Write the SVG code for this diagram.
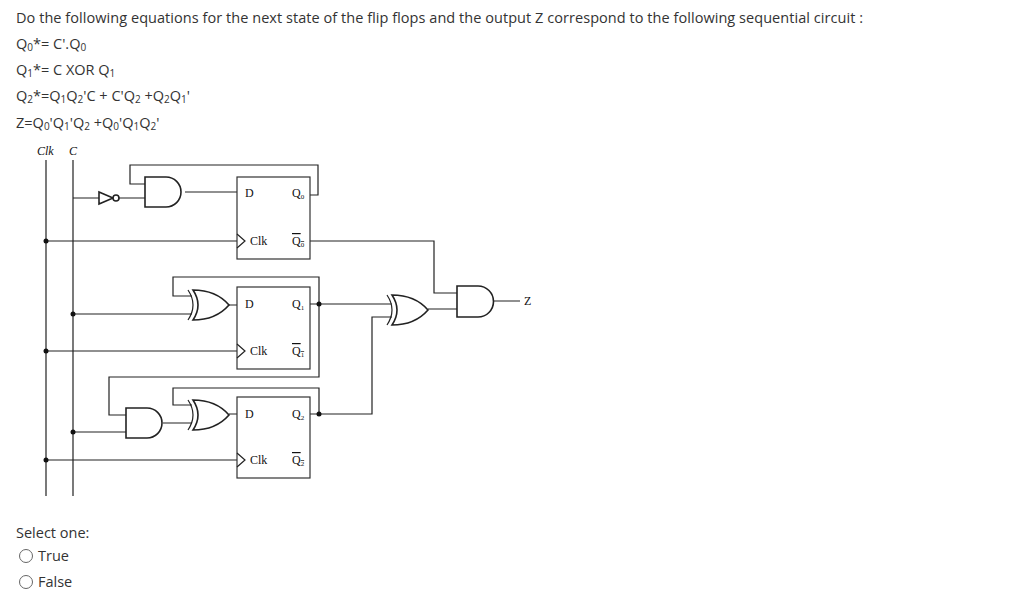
<svg xmlns="http://www.w3.org/2000/svg" width="1031" height="600" viewBox="0 0 1031 600">
<style>
.t{font-family:"Open Sans",sans-serif;font-size:14.5px;fill:#333}
.s{font-size:10px}
.c{font-family:"Liberation Serif",serif;font-size:12px;fill:#111}
.w{fill:none;stroke:#222;stroke-width:1.2}
.g{fill:#fff;stroke:#222;stroke-width:1.6}
.b{fill:#fff;stroke:#333;stroke-width:1.2}
</style>
<rect width="1031" height="600" fill="#fff"/>
<text class="t" x="16" y="23" textLength="847">Do the following equations for the next state of  the flip flops and the output Z correspond to the  following sequential circuit :</text>
<text class="t" x="16" y="49">Q<tspan class="s" dy="2">0</tspan><tspan dy="-2">*= C'.Q</tspan><tspan class="s" dy="2">0</tspan></text>
<text class="t" x="16" y="75">Q<tspan class="s" dy="2">1</tspan><tspan dy="-2">*= C XOR Q</tspan><tspan class="s" dy="2">1</tspan></text>
<text class="t" x="16" y="101">Q<tspan class="s" dy="2">2</tspan><tspan dy="-2">*=Q</tspan><tspan class="s" dy="2">1</tspan><tspan dy="-2">Q</tspan><tspan class="s" dy="2">2</tspan><tspan dy="-2">'C + C'Q</tspan><tspan class="s" dy="2">2</tspan><tspan dy="-2"> +Q</tspan><tspan class="s" dy="2">2</tspan><tspan dy="-2">Q</tspan><tspan class="s" dy="2">1</tspan><tspan dy="-2">'</tspan></text>
<text class="t" x="16" y="128">Z=Q<tspan class="s" dy="2">0</tspan><tspan dy="-2">'Q</tspan><tspan class="s" dy="2">1</tspan><tspan dy="-2">'Q</tspan><tspan class="s" dy="2">2</tspan><tspan dy="-2"> +Q</tspan><tspan class="s" dy="2">0</tspan><tspan dy="-2">'Q</tspan><tspan class="s" dy="2">1</tspan><tspan dy="-2">Q</tspan><tspan class="s" dy="2">2</tspan><tspan dy="-2">'</tspan></text>
<text class="c" x="37" y="155" font-style="italic">Clk</text>
<text class="c" x="69" y="155" font-style="italic">C</text>

<g id="connectors">
<path class="w" d="M46 160V496M73 160V496"/>
<path class="w" d="M73 198H99M119 198H145M185 192H237M145 184H130V165H318V195H310"/>
<path class="w" d="M46 241H237M46 351H237M46 460H237"/>
<path class="w" d="M310 241H434V293H457"/>
<path class="w" d="M229 305H237M73 314H192M319 304V277H173V296H192M310 304H392"/>
<path class="w" d="M319 304V377H109V415H126M73 432H126M163 423H192M229 414H237"/>
<path class="w" d="M310 414H372V317H392M319 414V388H173V405H192"/>
<path class="w" d="M428 309H457M493 301H520"/>
<g fill="#111"><circle cx="46" cy="241" r="2.5"/><circle cx="46" cy="351" r="2.5"/><circle cx="46" cy="460" r="2.5"/><circle cx="73" cy="314" r="2.5"/><circle cx="73" cy="432" r="2.5"/><circle cx="319" cy="304" r="2.5"/><circle cx="319" cy="414" r="2.5"/></g>
</g>

<g id="inv"><path class="g" d="M99 192V204L113 198Z"/><circle class="g" cx="116" cy="198" r="3"/></g>
<g id="and0"><path class="g" d="M145 177H166A15 15 0 0 1 166 207H145Z"/></g>
<g id="xor1"><path class="g" d="M193 290Q203 305 193 320Q216 320 229 305Q216 290 193 290Z"/><path class="w" stroke-width="1.6" d="M188 290Q198 305 188 320"/></g>
<g id="and2"><path class="g" d="M126 408H147A15 15 0 0 1 147 438H126Z"/></g>
<g id="xor2"><path class="g" d="M193 400Q203 415 193 430Q216 430 229 415Q216 400 193 400Z"/><path class="w" stroke-width="1.6" d="M188 400Q198 415 188 430"/></g>
<g id="xor3"><path class="g" d="M392 295Q402 310 392 325Q415 325 428 310Q415 295 392 295Z"/><path class="w" stroke-width="1.6" d="M387 295Q397 310 387 325"/></g>
<g id="and3"><path class="g" d="M457 286H478A15.5 15.5 0 0 1 478 317H457Z"/></g>
<text class="c" x="524" y="305">Z</text>

<g id="ff0"><rect class="b" x="237" y="177" width="73" height="82"/><path class="w" d="M237 234L245 241L237 248"/>
<text class="c" x="245" y="197">D</text><text class="c" x="292" y="197">Q<tspan font-size="7" dy="2">0</tspan></text>
<text class="c" x="250" y="245">Clk</text><text class="c" x="292" y="245" text-decoration="overline">Q<tspan font-size="7" dy="2">0</tspan></text></g>
<g id="ff1"><rect class="b" x="237" y="287" width="73" height="82"/><path class="w" d="M237 344L245 351L237 358"/>
<text class="c" x="245" y="308">D</text><text class="c" x="292" y="308">Q<tspan font-size="7" dy="2">1</tspan></text>
<text class="c" x="250" y="355">Clk</text><text class="c" x="292" y="355" text-decoration="overline">Q<tspan font-size="7" dy="2">1</tspan></text></g>
<g id="ff2"><rect class="b" x="237" y="397" width="73" height="81"/><path class="w" d="M237 453L245 460L237 467"/>
<text class="c" x="245" y="418">D</text><text class="c" x="292" y="418">Q<tspan font-size="7" dy="2">2</tspan></text>
<text class="c" x="250" y="464">Clk</text><text class="c" x="292" y="464" text-decoration="overline">Q<tspan font-size="7" dy="2">2</tspan></text></g>

<text class="t" x="16" y="538">Select one:</text>
<circle cx="26" cy="556" r="6.5" fill="#fff" stroke="#666"/><text class="t" x="38" y="561">True</text>
<circle cx="26" cy="582" r="6.5" fill="#fff" stroke="#666"/><text class="t" x="38" y="587">False</text>
</svg>
